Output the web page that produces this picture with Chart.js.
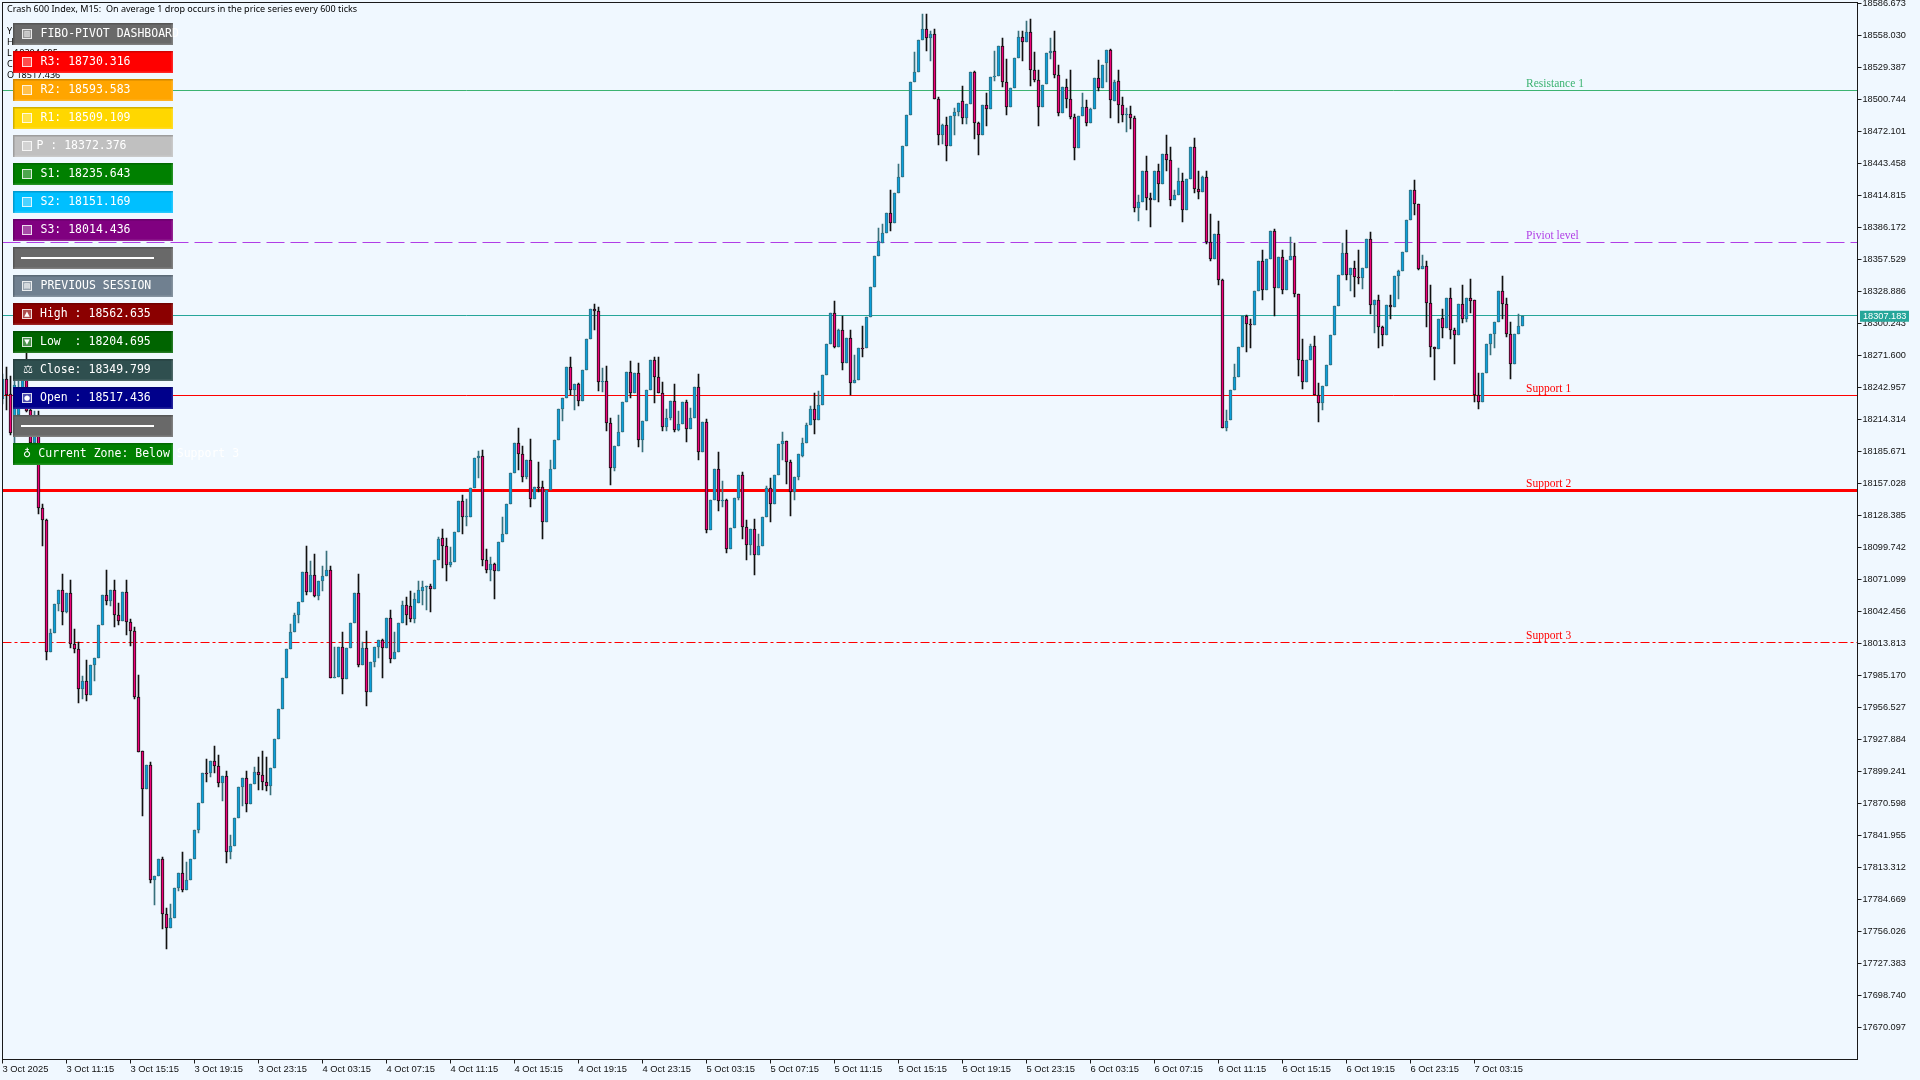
<!DOCTYPE html>
<html>
<head>
<meta charset="utf-8">
<title>Crash 600 Index, M15</title>
<script src="https://cdn.jsdelivr.net/npm/chart.js@4.4.6/dist/chart.umd.min.js"></script>
<style>
  html, body { margin: 0; background: #f0f8ff; overflow: hidden; }
  #wrap { position: relative; width: 1920px; height: 1080px; }
  canvas { position: absolute; left: 0; top: 0; }
  .info { position: absolute; left: 7px; font: 9.05px/12px "Noto Sans", sans-serif; color: #000; white-space: pre; }
  .row { position: absolute; left: 13px; width: 160px; height: 22px;
         box-shadow: inset 1.5px 1.5px 0 rgba(0,0,0,.18), inset -1.5px -1.5px 0 rgba(255,255,255,.14); }
  .row span.txt { position: absolute; top: 2px; font: 11.5px/16px "DejaVu Sans Mono", monospace; color: #fff; white-space: pre; }
  .row .ico { position: absolute; left: 9px; top: 6px; width: 8px; height: 8px; border: 1px solid rgba(255,255,255,.8);
              background: rgba(255,255,255,.3); color: #fff; font: 7px/8px "DejaVu Sans", sans-serif; text-align: center; }
  .row .ico.bare { border-color: transparent; background: none; font-size: 11px; }
  .row .sep { position: absolute; left: 8px; top: 10px; width: 133px; height: 2px; background: #fff; }
</style>
</head>
<body>
<div id="wrap"><canvas id="chart" width="1920" height="1080"></canvas></div>
<script>
const opens = [
  18233,18251,18237,18214,18218,18241,18259,18223,18193,18218,
  18135,18124,18006,18023,18049,18062,18042,18059,18013,18009,
  17973,17980,17968,17995,18001,18030,18057,18052,18062,18039,
  18034,18060,18033,18025,17966,17918,17884,17905,17802,17806,
  17821,17772,17759,17768,17795,17808,17793,17802,17821,17847,
  17871,17898,17898,17909,17904,17889,17895,17827,17833,17858,
  17885,17893,17870,17888,17899,17896,17890,17886,17902,17928,
  17955,17983,18009,18024,18039,18051,18078,18060,18075,18056,
  18070,18074,18080,17983,17984,18011,17982,18010,18032,18059,
  17995,18010,17970,17997,18011,18017,18010,18037,18000,18006,
  18032,18048,18047,18036,18050,18061,18064,18065,18063,18089,
  18108,18101,18084,18087,18114,18141,18127,18127,18153,18180,
  18182,18089,18080,18085,18079,18105,18112,18139,18166,18193,
  18183,18163,18178,18143,18154,18154,18123,18151,18170,18196,
  18224,18234,18261,18241,18246,18231,18259,18286,18313,18311,
  18248,18249,18211,18171,18191,18203,18230,18257,18238,18256,
  18196,18213,18241,18268,18252,18238,18208,18216,18231,18205,
  18210,18230,18206,18216,18243,18185,18212,18115,18142,18170,
  18141,18142,18098,18117,18144,18165,18118,18102,18116,18093,
  18101,18127,18153,18139,18165,18192,18195,18176,18149,18163,
  18182,18193,18209,18224,18214,18227,18254,18282,18310,18279,
  18294,18265,18287,18247,18250,18278,18278,18306,18333,18361,
  18372,18381,18399,18390,18417,18431,18459,18487,18516,18525,
  18554,18564,18556,18559,18501,18469,18478,18459,18486,18490,
  18499,18484,18497,18525,18480,18469,18496,18492,18521,18522,
  18549,18516,18494,18511,18538,18557,18552,18561,18527,18518,
  18494,18515,18542,18544,18523,18489,18512,18501,18485,18457,
  18486,18494,18480,18492,18520,18511,18533,18545,18499,18517,
  18496,18487,18488,18484,18404,18409,18437,18413,18411,18437,
  18425,18452,18447,18411,18415,18428,18402,18430,18458,18421,
  18418,18431,18373,18358,18380,18339,18207,18214,18241,18252,
  18279,18307,18300,18299,18329,18356,18330,18358,18383,18332,
  18360,18330,18357,18361,18327,18268,18248,18268,18280,18236,
  18229,18244,18263,18290,18316,18344,18363,18344,18350,18342,
  18341,18350,18376,18317,18321,18297,18290,18317,18315,18343,
  18347,18364,18393,18420,18407,18349,18352,18319,18279,18277,
  18305,18296,18323,18294,18290,18318,18304,18323,18321,18236,
  18230,18256,18282,18291,18302,18329,18318,18291,18264,18291,
  18298
]
const highs = [
  18255,18261,18253,18250,18250,18266,18274,18230,18222,18222,
  18139,18125,18027,18049,18062,18076,18059,18071,18027,18015,
  17985,17999,17995,18001,18030,18057,18080,18062,18071,18050,
  18060,18071,18036,18029,17986,17918,17905,17908,17806,17821,
  17823,17777,17781,17795,17808,17827,17818,17821,17847,17871,
  17898,17910,17909,17922,17914,17895,17900,17842,17858,17885,
  17893,17900,17888,17903,17912,17918,17912,17902,17928,17955,
  17983,18009,18031,18041,18051,18078,18101,18088,18094,18070,
  18083,18097,18083,18011,18011,18024,18010,18032,18059,18076,
  18015,18025,17997,18011,18017,18018,18037,18044,18024,18032,
  18052,18055,18061,18059,18070,18070,18065,18067,18089,18109,
  18116,18108,18100,18114,18141,18147,18143,18153,18180,18186,
  18187,18098,18091,18086,18105,18127,18139,18166,18193,18207,
  18191,18178,18197,18154,18176,18159,18151,18178,18196,18224,
  18234,18261,18270,18246,18247,18259,18286,18313,18318,18315,
  18260,18262,18216,18191,18218,18230,18257,18267,18256,18265,
  18213,18241,18268,18270,18270,18248,18224,18231,18246,18222,
  18230,18232,18225,18243,18255,18212,18215,18142,18170,18185,
  18159,18143,18117,18144,18165,18167,18124,18116,18125,18112,
  18127,18155,18162,18165,18192,18203,18195,18178,18163,18183,
  18198,18211,18226,18238,18240,18254,18282,18310,18320,18295,
  18307,18287,18294,18272,18278,18298,18306,18333,18361,18386,
  18389,18399,18420,18417,18443,18459,18487,18516,18543,18554,
  18577,18577,18562,18564,18503,18479,18485,18486,18493,18498,
  18513,18497,18525,18526,18481,18496,18507,18521,18544,18549,
  18556,18537,18511,18538,18562,18562,18571,18573,18543,18527,
  18514,18542,18556,18562,18532,18512,18519,18527,18488,18486,
  18507,18500,18493,18520,18536,18532,18545,18546,18518,18527,
  18503,18493,18495,18486,18415,18437,18450,18417,18437,18443,
  18452,18469,18458,18420,18439,18435,18430,18458,18466,18437,
  18432,18437,18398,18380,18392,18340,18223,18241,18264,18279,
  18307,18308,18304,18329,18356,18366,18358,18383,18385,18360,
  18366,18357,18378,18372,18327,18286,18268,18282,18289,18247,
  18244,18263,18290,18316,18344,18372,18384,18350,18356,18366,
  18350,18376,18382,18321,18326,18298,18317,18326,18343,18348,
  18364,18393,18420,18429,18407,18362,18356,18335,18279,18304,
  18313,18323,18332,18296,18318,18335,18323,18340,18321,18256,
  18256,18282,18291,18302,18329,18343,18323,18302,18291,18309,
  18307.183
]
const lows = [
  18228,18223,18200,18193,18216,18239,18221,18190,18190,18130,
  18101,17999,18006,18023,18043,18030,18041,18010,18005,17961,
  17964,17962,17968,17980,18001,18030,18048,18047,18029,18030,
  18034,18021,18012,17964,17917,17859,17884,17799,17780,17806,
  17758,17740,17759,17768,17792,17791,17793,17802,17821,17844,
  17871,17890,17894,17898,17885,17873,17817,17821,17833,17858,
  17868,17863,17870,17888,17883,17883,17882,17878,17902,17928,
  17955,17983,18009,18024,18032,18051,18057,18060,18055,18053,
  18061,18074,17983,17983,17984,17969,17982,18010,18032,17993,
  17995,17958,17970,17993,18001,17983,18010,17996,18000,18006,
  18032,18030,18033,18032,18050,18048,18044,18042,18063,18089,
  18081,18070,18082,18087,18114,18112,18119,18127,18153,18162,
  18083,18077,18070,18054,18079,18105,18112,18139,18166,18169,
  18158,18161,18136,18143,18149,18107,18123,18151,18170,18196,
  18213,18234,18236,18223,18226,18231,18259,18286,18294,18240,
  18239,18204,18156,18168,18191,18203,18230,18234,18238,18190,
  18185,18213,18241,18229,18238,18204,18204,18214,18203,18204,
  18210,18194,18206,18216,18178,18185,18113,18115,18142,18132,
  18136,18095,18098,18117,18142,18107,18089,18093,18075,18093,
  18101,18127,18123,18139,18165,18178,18157,18128,18142,18160,
  18181,18193,18209,18201,18214,18227,18254,18282,18278,18279,
  18259,18265,18236,18247,18250,18270,18278,18306,18333,18361,
  18372,18381,18383,18390,18417,18431,18459,18487,18516,18525,
  18554,18544,18535,18501,18460,18461,18446,18459,18469,18486,
  18479,18479,18497,18465,18451,18469,18477,18492,18517,18522,
  18512,18487,18494,18511,18538,18535,18552,18513,18516,18477,
  18494,18515,18537,18520,18486,18489,18493,18483,18447,18457,
  18486,18477,18480,18492,18508,18511,18516,18484,18499,18480,
  18481,18472,18474,18400,18392,18409,18402,18387,18411,18409,
  18425,18437,18405,18411,18415,18391,18402,18430,18417,18412,
  18418,18371,18356,18358,18335,18207,18204,18214,18241,18252,
  18279,18275,18278,18299,18329,18321,18330,18358,18307,18332,
  18327,18330,18357,18324,18253,18242,18248,18268,18236,18212,
  18223,18244,18263,18290,18316,18344,18339,18329,18324,18336,
  18331,18350,18309,18292,18278,18280,18290,18304,18315,18322,
  18347,18364,18393,18397,18348,18349,18297,18270,18250,18277,
  18287,18296,18286,18264,18290,18301,18302,18310,18230,18224,
  18230,18256,18272,18278,18302,18304,18288,18251,18264,18291,
  18298
]
const closes = [
  18251,18236,18202,18245,18241,18263,18222,18193,18218,18135,
  18124,18006,18023,18049,18062,18042,18059,18013,18009,17973,
  17980,17968,17995,18001,18030,18057,18052,18062,18039,18034,
  18060,18033,18025,17966,17917,17884,17905,17802,17806,17821,
  17772,17759,17768,17795,17808,17793,17802,17821,17847,17871,
  17898,17897,17909,17904,17889,17895,17827,17833,17858,17885,
  17893,17870,17888,17899,17896,17890,17886,17902,17928,17955,
  17983,18009,18024,18039,18051,18078,18060,18075,18056,18070,
  18074,18080,17983,17984,18011,17982,18010,18032,18059,17995,
  18010,17970,17997,18011,18017,18010,18037,18000,18006,18032,
  18048,18039,18036,18054,18062,18064,18065,18063,18089,18107,
  18101,18084,18087,18114,18141,18127,18128,18153,18180,18182,
  18089,18080,18085,18079,18105,18112,18139,18166,18193,18183,
  18163,18178,18143,18154,18153,18123,18151,18170,18196,18224,
  18234,18261,18241,18246,18231,18259,18286,18313,18311,18248,
  18249,18211,18171,18191,18203,18230,18257,18238,18256,18196,
  18213,18241,18268,18252,18238,18208,18216,18231,18205,18210,
  18230,18206,18216,18243,18185,18212,18115,18142,18170,18141,
  18142,18098,18117,18144,18165,18118,18102,18116,18093,18101,
  18127,18153,18139,18165,18192,18195,18176,18149,18163,18183,
  18193,18209,18224,18214,18227,18254,18282,18310,18279,18294,
  18265,18287,18247,18250,18278,18277,18306,18333,18361,18374,
  18381,18399,18390,18417,18431,18459,18487,18516,18525,18554,
  18564,18556,18559,18501,18469,18478,18459,18486,18490,18498,
  18484,18497,18525,18480,18469,18496,18492,18521,18522,18549,
  18516,18494,18511,18538,18557,18552,18561,18527,18518,18494,
  18514,18542,18544,18523,18489,18512,18501,18485,18457,18486,
  18494,18480,18492,18520,18511,18532,18545,18500,18516,18496,
  18487,18488,18484,18404,18409,18437,18413,18411,18437,18425,
  18452,18447,18411,18415,18428,18402,18430,18458,18421,18418,
  18431,18373,18358,18380,18339,18207,18213,18241,18252,18279,
  18307,18300,18299,18329,18356,18330,18358,18383,18332,18360,
  18330,18357,18361,18327,18268,18248,18268,18280,18236,18229,
  18244,18263,18290,18316,18344,18363,18344,18350,18342,18341,
  18350,18376,18317,18321,18297,18290,18317,18315,18343,18347,
  18364,18393,18420,18407,18349,18352,18319,18279,18277,18304,
  18296,18323,18294,18290,18318,18304,18323,18320,18236,18230,
  18256,18282,18291,18302,18329,18318,18291,18264,18291,18298,
  18307.183
]

const timeLabels = [
  "3 Oct 2025", "3 Oct 11:15", "3 Oct 15:15", "3 Oct 19:15", "3 Oct 23:15", "4 Oct 03:15",
  "4 Oct 07:15", "4 Oct 11:15", "4 Oct 15:15", "4 Oct 19:15", "4 Oct 23:15", "5 Oct 03:15",
  "5 Oct 07:15", "5 Oct 11:15", "5 Oct 15:15", "5 Oct 19:15", "5 Oct 23:15", "6 Oct 03:15",
  "6 Oct 07:15", "6 Oct 11:15", "6 Oct 15:15", "6 Oct 19:15", "6 Oct 23:15", "7 Oct 03:15"
]
const priceTicks = [
  18586.673, 18558.030, 18529.387, 18500.744, 18472.101, 18443.458, 18414.815, 18386.172, 18357.529,
  18328.886, 18300.243, 18271.600, 18242.957, 18214.314, 18185.671, 18157.028, 18128.385, 18099.742,
  18071.099, 18042.456, 18013.813, 17985.170, 17956.527, 17927.884, 17899.241, 17870.598, 17841.955,
  17813.312, 17784.669, 17756.026, 17727.383, 17698.740, 17670.097
]
const levelNames = ["Resistance 1", "Piviot level", "Support 1", "Support 2", "Support 3"]
const levelValues = [18509.109, 18372.376, 18235.643, 18151.169, 18014.436]
const lastPrice = 18307.183

const infoLines = ["Y", "H 18562.635", "L 18204.695", "C 18349.799", "O 18517.436"]
const panelTexts = [
  "FIBO-PIVOT DASHBOARD", "R3: 18730.316", "R2: 18593.583", "R1: 18509.109", "P : 18372.376",
  "S1: 18235.643", "S2: 18151.169", "S3: 18014.436", "", "PREVIOUS SESSION", "High : 18562.635",
  "Low  : 18204.695", "Close: 18349.799", "Open : 18517.436", "", "Current Zone: Below Support 3"
]
const panelColors = [
  "#696969", "#ff0000", "#ffa500", "#ffd700", "#c0c0c0", "#008000", "#00bfff", "#800080", "#696969",
  "#708090", "#8b0000", "#006400", "#2f4f4f", "#00008b", "#696969", "#008000"
]
const panelGlyphs = ["▥", "", "", "", "", "", "", "", "", "▤", "▲", "▼", "⚖", "●", "", "♁"]

// one candle every 4px, the free space on the right is part of the axis
const barsPerLabel = 16
const xMax = 463.75
const yMin = 17641.454
const yMax = 18587.57

const isUp = (i) => closes[i] >= opens[i]
const levelLine = (value, color, width, dash) => ({
  type: "line", order: 5, borderColor: color, borderWidth: width, borderDash: dash,
  pointRadius: 0, data: [{ x: 0, y: value }, { x: xMax, y: value }]
})

const levelColors = ["#3cb371", "#b03ee6", "#ff0000", "#ff0000", "#ff0000"]
const levelWidths = [1, 1, 1, 3, 1]
const levelDashes = [[], [18, 6], [], [], [9, 3, 3, 3]]

// terminal charts are pixel snapped, keep lines and bodies on whole pixels
const snapToPixels = {
  id: "snapToPixels",
  afterDatasetsUpdate(chart) {
    chart.data.datasets.forEach((ds, n) => {
      const els = chart.getDatasetMeta(n).data
      if (ds.type === "line") {
        els.forEach((el) => { el.y = Math.floor(el.y) + 0.5 })
      } else {
        els.forEach((el) => {
          el.y = Math.round(el.y)
          el.base = Math.round(el.base)
          if (el.y === el.base) el.base = el.y + 1
        })
      }
    })
  }
}

// level captions, price tag and the frame are not part of the scales
const overlay = {
  id: "overlay",
  afterDraw(chart) {
    const { ctx, chartArea: a, scales: { x, y } } = chart
    ctx.save()
    ctx.strokeStyle = "#1a1a1a"
    ctx.lineWidth = 1
    ctx.strokeRect(a.left, a.top, a.right - a.left, a.bottom - a.top)

    ctx.font = '11.5px "Liberation Serif", serif'
    ctx.textBaseline = "alphabetic"
    levelNames.forEach((name, n) => {
      ctx.fillStyle = levelColors[n]
      ctx.fillText(name, x.getPixelForValue(380.9), y.getPixelForValue(levelValues[n]) - 3.5)
    })

    const py = y.getPixelForValue(lastPrice)
    ctx.fillStyle = "#26a69a"
    ctx.fillRect(1860, py - 5, 49, 11)
    ctx.fillStyle = "#fff"
    ctx.font = '9.2px "Liberation Sans", sans-serif'
    ctx.textBaseline = "middle"
    ctx.fillText(lastPrice.toFixed(3), 1863, py + 0.5)
    ctx.restore()
  }
}

const axisFont = { family: '"Liberation Sans", sans-serif', size: 9.2 }
const indexes = opens.map((_, i) => i)

new Chart(document.getElementById("chart"), {
  type: "bar",
  data: {
    datasets: [
      ...levelValues.map((v, n) => levelLine(v, levelColors[n], levelWidths[n], levelDashes[n])),
      { type: "line", order: 5, borderColor: "#26a69a", borderWidth: 1, pointRadius: 0,
        data: [{ x: 0, y: lastPrice }, { x: xMax, y: lastPrice }] },
      { order: 2, grouped: false, barThickness: 1, borderWidth: 0,
        backgroundColor: (c) => (isUp(c.dataIndex) ? "#38707c" : "#111111"),
        data: indexes.map((i) => ({ x: i, y: [lows[i], highs[i]] })) },
      { order: 1, grouped: false, barThickness: 3, borderWidth: 1, borderSkipped: false,
        backgroundColor: (c) => (isUp(c.dataIndex) ? "#0a9fdc" : "#f0007a"),
        borderColor: (c) => (isUp(c.dataIndex) ? "#33707f" : "#111111"),
        data: indexes.map((i) => ({ x: i, y: [opens[i], closes[i]] })) }
    ]
  },
  plugins: [snapToPixels, overlay],
  options: {
    responsive: false,
    animation: false,
    layout: { padding: { left: 2.5, top: 2.5, right: 0, bottom: 0 } },
    plugins: { legend: { display: false }, tooltip: { enabled: false } },
    scales: {
      x: {
        type: "linear", min: 0, max: xMax, offset: false,
        border: { display: false },
        grid: { offset: false, drawOnChartArea: false, tickLength: 4, tickColor: "#1a1a1a" },
        ticks: {
          font: { family: axisFont.family, size: 9.4 }, color: "#111", align: "start", maxRotation: 0, autoSkip: false, padding: 0,
          callback: (v) => timeLabels[v / barsPerLabel]
        },
        afterBuildTicks(scale) { scale.ticks = timeLabels.map((_, k) => ({ value: k * barsPerLabel })) },
        afterFit(scale) { scale.height = 20.5; scale.paddingLeft = 0; scale.paddingRight = 0 }
      },
      y: {
        position: "right", min: yMin, max: yMax,
        border: { display: false },
        grid: { drawOnChartArea: false, tickLength: 4, tickColor: "#1a1a1a" },
        ticks: {
          font: axisFont, color: "#111", autoSkip: false, padding: 1,
          callback: (v) => v.toFixed(3)
        },
        afterBuildTicks(scale) { scale.ticks = priceTicks.map((v) => ({ value: v })) },
        afterFit(scale) { scale.width = 62.5; scale.paddingTop = 0; scale.paddingBottom = 0 }
      }
    }
  }
})

// chart title and MT5 style dashboard on top of the canvas
const wrap = document.getElementById("wrap")
const addInfo = (text, top) => {
  const el = document.createElement("div")
  el.className = "info"
  el.style.top = top + "px"
  el.textContent = text
  wrap.appendChild(el)
}
addInfo("Crash 600 Index, M15:  On average 1 drop occurs in the price series every 600 ticks", 3)
infoLines.forEach((line, n) => addInfo(line, 25 + n * 11))

panelTexts.forEach((text, n) => {
  const row = document.createElement("div")
  row.className = "row"
  row.style.top = 23 + n * 28 + "px"
  row.style.background = panelColors[n]
  if (text === "") {
    const sep = document.createElement("div")
    sep.className = "sep"
    row.appendChild(sep)
  } else {
    const ico = document.createElement("div")
    ico.className = n === 12 || n === 15 ? "ico bare" : "ico"
    ico.textContent = panelGlyphs[n]
    row.appendChild(ico)
    const txt = document.createElement("span")
    txt.className = "txt"
    txt.style.left = (n === 4 ? 23.5 : n === 15 ? 25.3 : n >= 10 && n <= 13 ? 27 : 27.5) + "px"
    txt.textContent = text
    row.appendChild(txt)
  }
  wrap.appendChild(row)
})
</script>
</body>
</html>
